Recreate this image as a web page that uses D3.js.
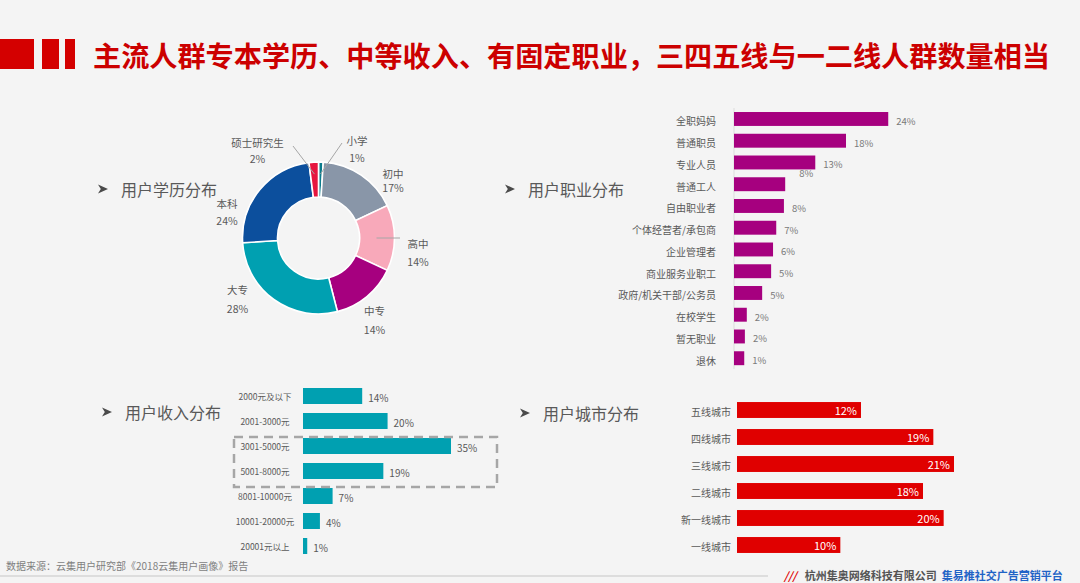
<!DOCTYPE html>
<html>
<head>
<meta charset="utf-8">
<script src="https://cdn.jsdelivr.net/npm/d3@7"></script>
<style>
  html, body { margin: 0; padding: 0; background: #f4f4f4; }
  svg { display: block; font-family: "Noto Sans CJK SC", "Noto Sans", sans-serif; }
</style>
</head>
<body>
<div id="chart"></div>
<script>
// education (donut), clockwise from 12 o'clock
const eduNames = ['小学', '初中', '高中', '中专', '大专', '本科', '硕士研究生'];
const eduValues = [1, 17, 14, 14, 28, 24, 2];
const eduColors = ['#0b7b8c', '#8996a8', '#f8a9ba', '#a6007f', '#00a0b1', '#0c4f9d', '#e6153e'];

// occupation
const jobNames = ['全职妈妈', '普通职员', '专业人员', '普通工人', '自由职业者', '个体经营者/承包商',
  '企业管理者', '商业服务业职工', '政府/机关干部/公务员', '在校学生', '暂无职业', '退休'];
const jobValues = [24.1, 17.5, 12.7, 8.0, 7.8, 6.6, 6.1, 5.8, 4.4, 2.0, 1.7, 1.6];
const jobText = ['24%', '18%', '13%', '8%', '8%', '7%', '6%', '5%', '5%', '2%', '2%', '1%'];

// income
const incomeNames = ['2000元及以下', '2001-3000元', '3001-5000元', '5001-8000元',
  '8001-10000元', '10001-20000元', '20001元以上'];
const incomeValues = [14, 20, 35, 19, 7, 4, 1];

// city tier
const cityNames = ['五线城市', '四线城市', '三线城市', '二线城市', '新一线城市', '一线城市'];
const cityValues = [12, 19, 21, 18, 20, 10];

const W = 1080, H = 583;
const grey = '#595959';

const svg = d3.select('#chart').append('svg')
  .attr('width', W).attr('height', H);

svg.append('rect').attr('width', W).attr('height', H).attr('fill', '#f4f4f4');

// title bar
const head = svg.append('g');
[[0, 34], [42, 17], [65, 10]].forEach(([x, w]) => {
  head.append('rect').attr('x', x).attr('y', 39).attr('width', w).attr('height', 30).attr('fill', '#d40000');
});
head.append('text')
  .attr('x', 93).attr('y', 55)
  .attr('dominant-baseline', 'central')
  .attr('textLength', 957).attr('lengthAdjust', 'spacingAndGlyphs')
  .style('font-size', '28px').style('font-weight', 'bold').style('fill', '#cc0000')
  .text('主流人群专本学历、中等收入、有固定职业，三四五线与一二线人群数量相当');

// section headings with arrow bullet
function heading(x, y, label) {
  const g = svg.append('g').attr('transform', `translate(${x},${y})`);
  g.append('path').attr('d', 'M0,-4.5 L10,0 L0,4.5 L2.8,0 Z').attr('fill', '#4a4a4a');
  g.append('text').attr('x', 23).attr('dominant-baseline', 'central')
    .style('font-size', '16px').style('fill', grey).text(label);
}
heading(98, 189, '用户学历分布');
heading(505, 189, '用户职业分布');
heading(102, 412, '用户收入分布');
heading(520, 413, '用户城市分布');

// ---- donut ----
const cx = 318.5, cy = 238;
const pie = d3.pie().sort(null).value(d => d)(eduValues);
const arc = d3.arc().innerRadius(41).outerRadius(76);
const donut = svg.append('g').attr('transform', `translate(${cx},${cy})`);
donut.selectAll('path').data(pie).enter().append('path')
  .attr('d', arc)
  .attr('fill', (d, i) => eduColors[i])
  .attr('stroke', '#fff').attr('stroke-width', 1.6);

const mid = d => (d.startAngle + d.endAngle) / 2;
const polar = (a, r) => [r * Math.sin(a), -r * Math.cos(a)];

// leader lines
const leaders = [[0, [23.5, -95], 64], [6, [-25.5, -92], 64], [2, [81.5, 0], 58]];
leaders.forEach(([i, from, r]) => {
  const p = polar(mid(pie[i]), r);
  donut.append('line')
    .attr('x1', from[0]).attr('y1', from[1]).attr('x2', p[0]).attr('y2', p[1])
    .attr('stroke', '#a6a6a6').attr('stroke-width', 1);
});

// label placement relative to center: [x, nameY, pctY]
const eduLabelPos = [[38.5, -98, -81], [74.5, -65, -51], [99.5, 5, 23], [56, 72, 91],
  [-81, 51, 70], [-91.5, -35, -18], [-61, -96, -80]];
eduNames.forEach((n, i) => {
  const [x, y1, y2] = eduLabelPos[i];
  donut.append('text').attr('x', x).attr('y', y1).attr('text-anchor', 'middle')
    .attr('dominant-baseline', 'central')
    .style('font-size', '10.5px').style('fill', grey).text(n);
  donut.append('text').attr('x', x).attr('y', y2).attr('text-anchor', 'middle')
    .attr('dominant-baseline', 'central')
    .style('font-size', '10.5px').style('fill', grey).text(eduValues[i] + '%');
});

// ---- occupation bars ----
const jx = d3.scaleLinear().domain([0, 24]).range([734, 734 + 24 * 6.4]);
const jy = d3.scaleBand().domain(jobNames).range([108.1, 369.1]).paddingInner(0.36).paddingOuter(0.18);
const job = svg.append('g');
job.append('line').attr('x1', 734).attr('x2', 734).attr('y1', 108).attr('y2', 369)
  .attr('stroke', '#dcdcdc');
job.selectAll('rect').data(jobNames).enter().append('rect')
  .attr('x', jx(0)).attr('y', d => jy(d))
  .attr('width', (d, i) => jx(jobValues[i]) - jx(0)).attr('height', jy.bandwidth())
  .attr('fill', '#a6007f');
job.selectAll('text.cat').data(jobNames).enter().append('text')
  .attr('x', 716).attr('y', d => jy(d) + jy.bandwidth() / 2 + 2)
  .attr('text-anchor', 'end').attr('dominant-baseline', 'central')
  .style('font-size', '10px').style('fill', grey).text(d => d);
job.selectAll('text.val').data(jobNames).enter().append('text')
  .attr('x', (d, i) => i === 3 ? jx(jobValues[i]) + 14 : jx(jobValues[i]) + 8)
  .attr('y', (d, i) => jy(d) + jy.bandwidth() / 2 + (i === 3 ? -11 : 2))
  .attr('dominant-baseline', 'central')
  .style('font-size', '9.5px').style('fill', '#7a7a7a').text((d, i) => jobText[i]);

// ---- income bars ----
const ix = d3.scaleLinear().domain([0, 35]).range([303, 451]);
const iy = d3.scaleBand().domain(incomeNames).range([383.5, 558.5]).paddingInner(0.36).paddingOuter(0.18);
const inc = svg.append('g');
inc.selectAll('rect').data(incomeNames).enter().append('rect')
  .attr('x', ix(0)).attr('y', d => iy(d))
  .attr('width', (d, i) => ix(incomeValues[i]) - ix(0)).attr('height', iy.bandwidth())
  .attr('fill', '#00a0b1');
inc.selectAll('text.cat').data(incomeNames).enter().append('text')
  .attr('x', 265).attr('y', d => iy(d) + iy.bandwidth() / 2)
  .attr('text-anchor', 'middle').attr('dominant-baseline', 'central')
  .style('font-size', '8.5px').style('fill', grey).text(d => d);
inc.selectAll('text.val').data(incomeNames).enter().append('text')
  .attr('x', (d, i) => ix(incomeValues[i]) + 6).attr('y', d => iy(d) + iy.bandwidth() / 2 + 1)
  .attr('dominant-baseline', 'central')
  .style('font-size', '10px').style('fill', grey).text((d, i) => incomeValues[i] + '%');

// dashed highlight round the 3001-8000 rows
const boxTop = iy('3001-5000元') - iy.step() * 0.18 + 3.5;
const boxBot = iy('5001-8000元') + iy.bandwidth() + iy.step() * 0.18 + 3.5;
inc.append('rect')
  .attr('x', 234).attr('y', boxTop).attr('width', 263).attr('height', boxBot - boxTop)
  .attr('fill', 'none').attr('stroke', '#a6a6a6').attr('stroke-width', 2.5)
  .attr('stroke-dasharray', '9,6');

// ---- city bars ----
const cxs = d3.scaleLinear().domain([0, 21]).range([737, 954]);
const cys = d3.scaleBand().domain(cityNames).range([396.5, 558.5]).paddingInner(0.41).paddingOuter(0.205);
const city = svg.append('g');
city.selectAll('rect').data(cityNames).enter().append('rect')
  .attr('x', cxs(0)).attr('y', d => cys(d))
  .attr('width', (d, i) => cxs(cityValues[i]) - cxs(0)).attr('height', cys.bandwidth())
  .attr('fill', '#e00000');
city.selectAll('text.cat').data(cityNames).enter().append('text')
  .attr('x', 731).attr('y', d => cys(d) + cys.bandwidth() / 2 + 1)
  .attr('text-anchor', 'end').attr('dominant-baseline', 'central')
  .style('font-size', '10px').style('fill', grey).text(d => d);
city.selectAll('text.val').data(cityNames).enter().append('text')
  .attr('x', (d, i) => cxs(cityValues[i]) - 4).attr('y', d => cys(d) + cys.bandwidth() / 2)
  .attr('text-anchor', 'end').attr('dominant-baseline', 'central')
  .style('font-size', '11px').style('fill', '#fff').text((d, i) => cityValues[i] + '%');

// ---- footer ----
svg.append('text').attr('x', 6).attr('y', 565).attr('dominant-baseline', 'central')
  .style('font-size', '10px').style('fill', '#7f7f7f')
  .text('数据来源：云集用户研究部《2018云集用户画像》报告');
svg.append('line').attr('x1', 0).attr('x2', 768).attr('y1', 576).attr('y2', 576)
  .attr('stroke', '#d6d6d6').attr('stroke-width', 1.5);
const foot = svg.append('text').attr('x', 784).attr('y', 574.5).attr('dominant-baseline', 'central')
  .style('font-size', '11px').style('font-weight', 'bold');
foot.append('tspan').style('fill', '#e00000').style('font-style', 'italic').text('///');
foot.append('tspan').attr('dx', 8).style('fill', '#555').text('杭州集奥网络科技有限公司');
foot.append('tspan').attr('dx', 5).style('fill', '#1f63c6').text('集易推社交广告营销平台');
</script>
</body>
</html>
